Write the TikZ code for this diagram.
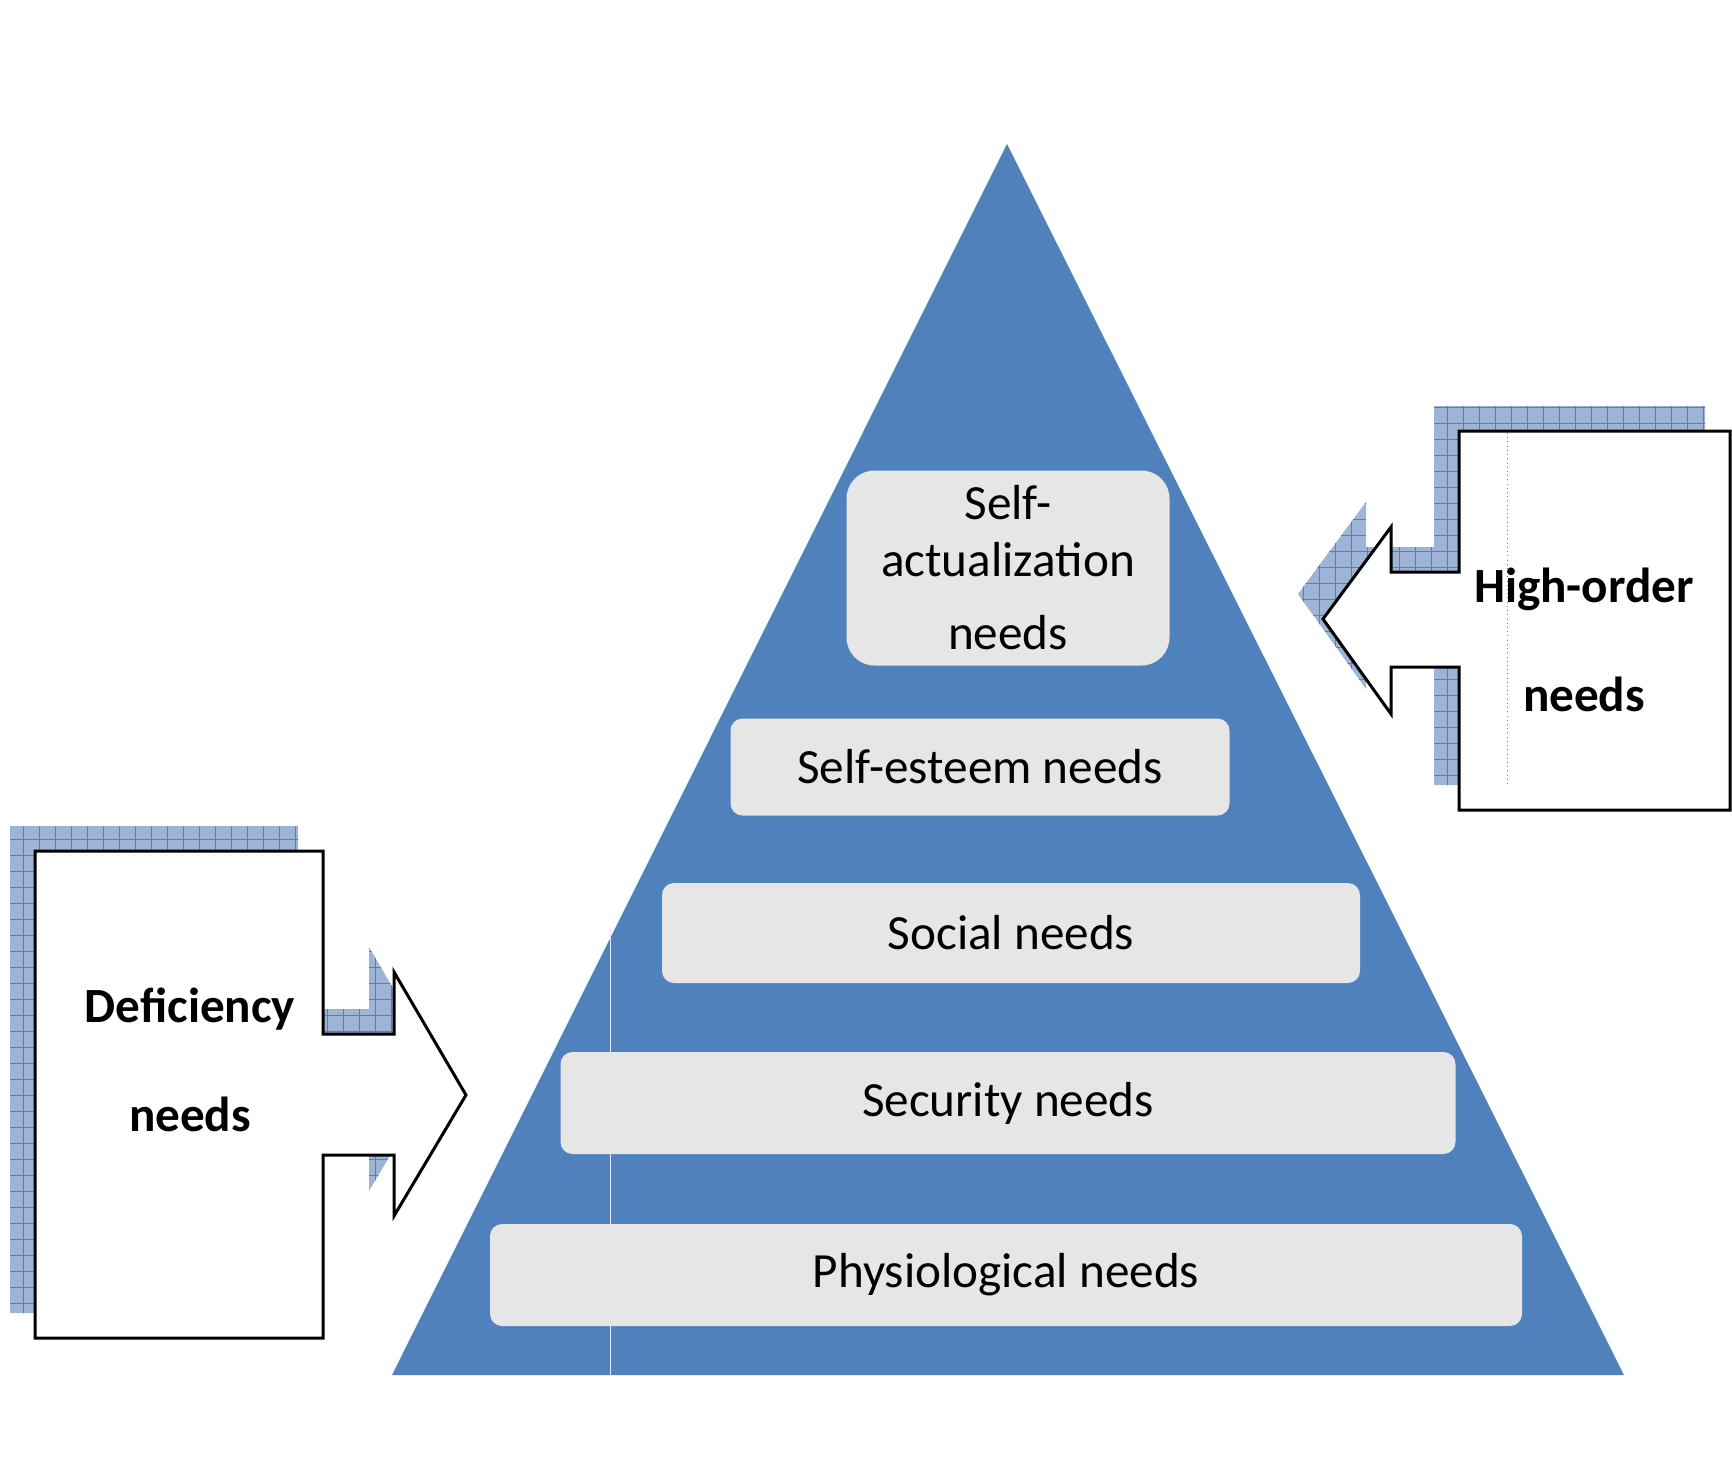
\documentclass[tikz,border=0pt]{standalone}
\usepackage{fontspec}
\setmainfont{Carlito}
\usetikzlibrary{shapes,arrows}

\definecolor{pyrblue}{HTML}{4F81BD}
\definecolor{shadeblue}{HTML}{9DB4D7}
\definecolor{boxgray}{HTML}{E6E6E6}

\tikzset{
  needbox/.style={fill=boxgray, rounded corners=1.2mm, inner sep=0pt, align=center,
    font=\fontsize{14}{16}\selectfont},
  sidetext/.style={align=center, font=\fontsize{14}{31}\selectfont\bfseries},
  callout/.style={draw=black, fill=white, line width=0.3mm, line join=miter},
  shadegrid/.style={draw=pyrblue, line width=0.25pt}
}

\begin{document}
\begin{tikzpicture}[x=0.1mm,y=-0.1mm]
	\useasboundingbox (0,0) rectangle (1732,1473);

	%pyramid
	\fill[pyrblue] (392,1375) -- (1007,144) -- (1624,1375) -- cycle;
	\draw[blue!10!white, very thin] (610,928) -- (610,1375);

	%levels
	\node[needbox, rounded corners=2.8mm, minimum width=32.3mm, minimum height=19.5mm] (selfact) at (1008,568) {Self-\\actualization\\[5pt]needs};
	\node[needbox, minimum width=49.9mm, minimum height=9.7mm] (esteem) at (980,767) {Self-esteem needs};
	\node[needbox, minimum width=69.8mm, minimum height=10mm] (social) at (1011,933) {Social needs};
	\node[needbox, minimum width=89.5mm, minimum height=10.2mm] (security) at (1008,1103) {Security needs};
	\node[needbox, minimum width=103.2mm, minimum height=10.2mm] (physio) at (1006,1275) {Physiological needs};

	%left callout shadow
	\begin{scope}[shift={(-25,-25)}]
		\clip (35,851) -- (323,851) -- (323,1034) -- (394,1034) -- (394,972) -- (466,1095) -- (394,1216) -- (394,1155) -- (323,1155) -- (323,1338) -- (35,1338) -- cycle;
		\fill[shadeblue] (0,800) rectangle (480,1360);
		\draw[shadegrid, step=1.6mm] (0,800) grid (480,1360);
	\end{scope}
	%left callout
	\filldraw[callout] (35,851) -- (323,851) -- (323,1034) -- (394,1034) -- (394,972) -- (466,1095) -- (394,1216) -- (394,1155) -- (323,1155) -- (323,1338) -- (35,1338) -- cycle;
	\node[sidetext] (deficiency) at (190,1060) {Deficiency\\needs};

	%right callout shadow
	\begin{scope}[shift={(-25,-25)}]
		\clip (1459,431) -- (1730,431) -- (1730,810) -- (1459,810) -- (1459,667) -- (1391,667) -- (1391,714) -- (1323,619) -- (1391,527) -- (1391,572) -- (1459,572) -- cycle;
		\fill[shadeblue] (1280,380) rectangle (1732,840);
		\draw[shadegrid, step=1.6mm] (1280,380) grid (1732,840);
	\end{scope}
	%right callout
	\filldraw[callout] (1459,431) -- (1730,431) -- (1730,810) -- (1459,810) -- (1459,667) -- (1391,667) -- (1391,714) -- (1323,619) -- (1391,527) -- (1391,572) -- (1459,572) -- cycle;
	\draw[pyrblue, densely dotted, very thin] (1507,433) -- (1507,785);
	\node[sidetext] (highorder) at (1584,640) {High-order\\needs};

	\end{tikzpicture}
\end{document}
